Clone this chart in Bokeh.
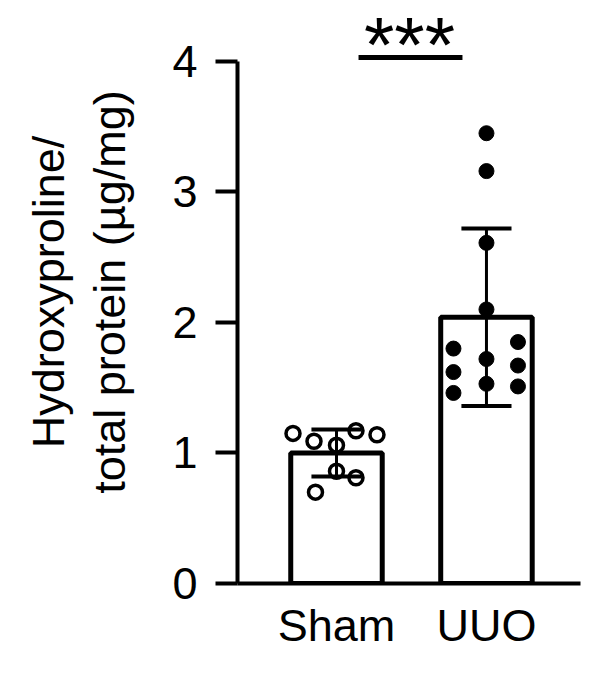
from bokeh.plotting import figure
from bokeh.models import FixedTicker, ColumnDataSource
from bokeh.core.properties import value
from bokeh.embed import file_html
from bokeh.resources import INLINE

# group summary (mean +/- SD)
groups = ["Sham", "UUO"]
means = [1.00, 2.04]
sds = [0.18, 0.68]

# individual animals
sham_vals = [1.15, 1.09, 1.06, 1.17, 1.14, 0.86, 0.81, 0.70]
sham_jitter = [-0.29, -0.15, 0.0, 0.13, 0.27, 0.0, 0.13, -0.14]
uuo_vals = [3.45, 3.16, 2.61, 2.10, 1.80, 1.62, 1.46, 1.72, 1.53, 1.85, 1.67, 1.51]
uuo_jitter = [0, 0, 0, 0, -0.22, -0.22, -0.22, 0, 0, 0.21, 0.21, 0.21]

y_ticks = [0, 1, 2, 3, 4]
sig_label = "***"
sig_y = 4.03

FONT = "Liberation Sans"
pos = list(range(1, len(groups) + 1))
y_top = 4.467

p = figure(width=584, height=659, x_range=(0.34, 2.627), y_range=(0, y_top),
           output_backend="svg", toolbar_location=None,
           min_border_left=237, min_border_right=4,
           min_border_top=0, min_border_bottom=76)

p.outline_line_color = None
p.xgrid.grid_line_color = None
p.ygrid.grid_line_color = None

# bars
bars = ColumnDataSource(dict(x=pos, top=means,
                             lo=[m - s for m, s in zip(means, sds)],
                             hi=[m + s for m, s in zip(means, sds)]))
p.vbar(x="x", top="top", bottom=0, width=0.61, source=bars,
       fill_color="white", line_color="black", line_width=5)

# error bars
p.segment(x0="x", x1="x", y0="lo", y1="hi", source=bars,
          line_color="black", line_width=3)
cap = 0.167
p.segment(x0=[x - cap for x in pos], x1=[x + cap for x in pos],
          y0=bars.data["hi"], y1=bars.data["hi"], line_color="black", line_width=4)
p.segment(x0=[x - cap for x in pos], x1=[x + cap for x in pos],
          y0=bars.data["lo"], y1=bars.data["lo"], line_color="black", line_width=4)

# points
p.scatter([pos[0] + j for j in sham_jitter], sham_vals, size=14,
          fill_color=None, line_color="black", line_width=3.5)
p.scatter([pos[1] + j for j in uuo_jitter], uuo_vals, size=15,
          fill_color="black", line_color="black")

# significance
p.segment(x0=[pos[0] + 0.147], x1=[pos[1] - 0.16], y0=[sig_y], y1=[sig_y],
          line_color="black", line_width=5)
p.text(x=[(pos[0] + pos[1]) / 2 - 0.013], y=[y_top - 0.005], text=[sig_label],
       text_font=value(FONT), text_font_size="78px", text_align="center",
       text_baseline="top", text_color="black")

# y axis
ya = p.yaxis[0]
ya.ticker = FixedTicker(ticks=y_ticks)
ya.bounds = (0, 4)
ya.axis_line_width = 4
ya.major_tick_line_width = 4
ya.major_tick_out = 22
ya.major_tick_in = 0
ya.minor_tick_line_color = None
ya.major_label_standoff = 18
ya.major_label_text_font = FONT
ya.major_label_text_font_size = "45px"
ya.major_label_text_color = "black"
ya.axis_label = "Hydroxyproline/\ntotal protein (µg/mg)"
ya.axis_label_text_font = FONT
ya.axis_label_text_font_size = "45px"
ya.axis_label_text_font_style = "normal"
ya.axis_label_text_color = "black"
ya.axis_label_standoff = 34

# x axis
xa = p.xaxis[0]
xa.ticker = FixedTicker(ticks=pos)
xa.major_label_overrides = {x: g for x, g in zip(pos, groups)}
xa.axis_line_width = 4
xa.major_tick_line_color = None
xa.minor_tick_line_color = None
xa.major_label_standoff = 10
xa.major_label_text_font = FONT
xa.major_label_text_font_size = "45px"
xa.major_label_text_color = "black"

open("out.html", "w").write(file_html(p, INLINE))
